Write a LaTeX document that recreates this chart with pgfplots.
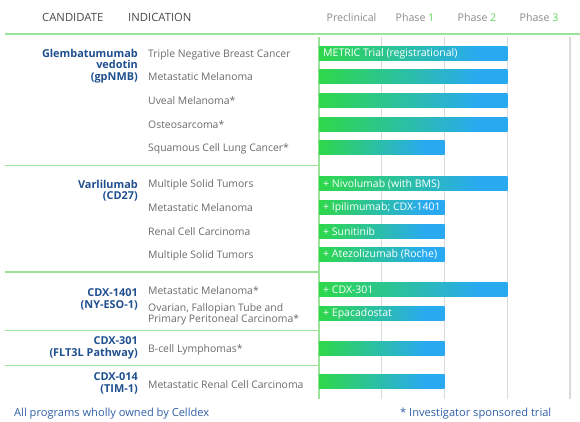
\documentclass[border=0pt]{standalone}
\usepackage{pgfplots}
\pgfplotsset{compat=1.18}
\usepackage{fontspec}
\setmainfont{Open Sans}
\definecolor{bgreen}{HTML}{2ED84A}
\definecolor{bblue}{HTML}{29AAF0}
\definecolor{candblue}{HTML}{1E4F8E}
\definecolor{indgray}{HTML}{6A6A6A}
\definecolor{headgray}{HTML}{4A4A4A}
\definecolor{phgray}{HTML}{8A8A8A}
\definecolor{phgreen}{HTML}{5CD65C}
\definecolor{sepgreen}{HTML}{9BE39B}
\definecolor{gridgray}{HTML}{DADADA}
\definecolor{footblue}{HTML}{2F5FA5}
\pgfdeclarehorizontalshading{barshade}{100bp}{color(0bp)=(bgreen); color(25bp)=(bgreen); color(67bp)=(bblue); color(100bp)=(bblue)}
\tikzset{pbar/.style={xbar, bar width=14, bar shift=0pt, draw=none, shade, shading=barshade},
  blab/.style={anchor=west, text=white, font=\fontsize{10.5}{12}\selectfont, inner sep=0pt, xshift=4pt}}
\begin{document}
\begin{tikzpicture}
\useasboundingbox (0,0) rectangle (580pt,-421pt);
\begin{axis}[at={(0,0)}, anchor=north west, width=580pt, height=421pt, scale only axis,
  xmin=-5.0837, xmax=4.1594, ymin=0, ymax=421, y dir=reverse, hide axis, clip=false]
% grid lines and axis line
\draw[gridgray, line width=1.3pt] (axis cs:1,37) -- (axis cs:1,399);
\draw[gridgray, line width=1.3pt] (axis cs:2,37) -- (axis cs:2,399);
\draw[gridgray, line width=1.3pt] (axis cs:3,37) -- (axis cs:3,399);
\draw[gridgray, line width=1.3pt] (axis cs:4,37) -- (axis cs:4,399);
\draw[sepgreen, line width=1.4pt] (axis cs:0,37) -- (axis cs:0,399);
% bars
\addplot[pbar] coordinates {(3,53)};
\addplot[pbar] coordinates {(3,76.5)};
\addplot[pbar] coordinates {(3,100)};
\addplot[pbar] coordinates {(3,124)};
\addplot[pbar] coordinates {(2,147.7)};
\addplot[pbar] coordinates {(3,183.7)};
\addplot[pbar] coordinates {(2,207)};
\addplot[pbar] coordinates {(2,231)};
\addplot[pbar] coordinates {(2,254.5)};
\addplot[pbar] coordinates {(3,289.7)};
\addplot[pbar] coordinates {(2,313.7)};
\addplot[pbar] coordinates {(2,348.3)};
\addplot[pbar] coordinates {(2,381.7)};
\node[blab] at (axis cs:0,53.3) {METRIC Trial (registrational)};
\node[blab] at (axis cs:0,184) {+ Nivolumab (with BMS)};
\node[blab] at (axis cs:0,207.3) {+ Ipilimumab; CDX-1401};
\node[blab] at (axis cs:0,231.3) {+ Sunitinib};
\node[blab] at (axis cs:0,254.8) {+ Atezolizumab (Roche)};
\node[blab] at (axis cs:0,290) {+ CDX-301};
\node[blab] at (axis cs:0,314) {+ Epacadostat};
\end{axis}
\begin{scope}[x=1pt,y=-1pt]
% header
\draw[sepgreen, line width=1.8pt] (5,34) -- (580,34);
\begin{scope}[every node/.style={inner sep=0pt, font=\fontsize{11.3}{13}\selectfont}]
\node[anchor=base west, text=headgray] at (42,21.5) {CANDIDATE};
\node[anchor=base west, text=headgray] at (128,21.5) {INDICATION};
\end{scope}
\begin{scope}[every node/.style={inner sep=0pt, font=\fontsize{10.6}{13}\selectfont}]
\node[anchor=base, text=phgray] at (351.5,21.3) {Preclinical};
\node[anchor=base, text=phgray] at (415,21.3) {Phase \textcolor{phgreen}{1}};
\node[anchor=base, text=phgray] at (477,21.3) {Phase \textcolor{phgreen}{2}};
\node[anchor=base, text=phgray] at (539,21.3) {Phase \textcolor{phgreen}{3}};
\end{scope}
% separators
\foreach \s in {165.5,272,330.7,365.3} \draw[sepgreen, line width=1.2pt] (5,\s) -- (319,\s);
% candidates
\begin{scope}[every node/.style={anchor=base east, inner sep=0pt, text=candblue, font=\fontsize{10.9}{12}\selectfont\bfseries}]
\node at (138,57.2) {Glembatumumab};
\node at (138,68.9) {vedotin};
\node at (138,80.6) {(gpNMB)};
\node at (138,188) {Varlilumab};
\node at (138,199.8) {(CD27)};
\node at (138,296.2) {CDX-1401};
\node at (138,308.2) {(NY-ESO-1)};
\node at (138,344.4) {CDX-301};
\node at (138,356.6) {(FLT3L Pathway)};
\node at (138,380.6) {CDX-014};
\node at (138,392.6) {(TIM-1)};
\end{scope}
% indications
\begin{scope}[every node/.style={anchor=base west, inner sep=0pt, text=indgray, font=\fontsize{10.4}{12}\selectfont}]
\node at (148,57) {Triple Negative Breast Cancer};
\node at (148,80.5) {Metastatic Melanoma};
\node at (148,104) {Uveal Melanoma*};
\node at (148,128) {Osteosarcoma*};
\node at (148,151.7) {Squamous Cell Lung Cancer*};
\node at (148,187.7) {Multiple Solid Tumors};
\node at (148,211) {Metastatic Melanoma};
\node at (148,235) {Renal Cell Carcinoma};
\node at (148,258.5) {Multiple Solid Tumors};
\node at (148,294.7) {Metastatic Melanoma*};
\node at (148,311.3) {Ovarian, Fallopian Tube and};
\node at (148,322.7) {Primary Peritoneal Carcinoma*};
\node at (148,352.5) {B-cell Lymphomas*};
\node at (148,388) {Metastatic Renal Cell Carcinoma};
\end{scope}
% footer
\node[anchor=base west, inner sep=0pt, text=footblue, font=\fontsize{11.1}{13}\selectfont] at (14,416.3) {All programs wholly owned by Celldex};
\node[anchor=base west, inner sep=0pt, text=footblue, font=\fontsize{11.1}{13}\selectfont] at (400,416.3) {* Investigator sponsored trial};
\end{scope}
\end{tikzpicture}
\end{document}
